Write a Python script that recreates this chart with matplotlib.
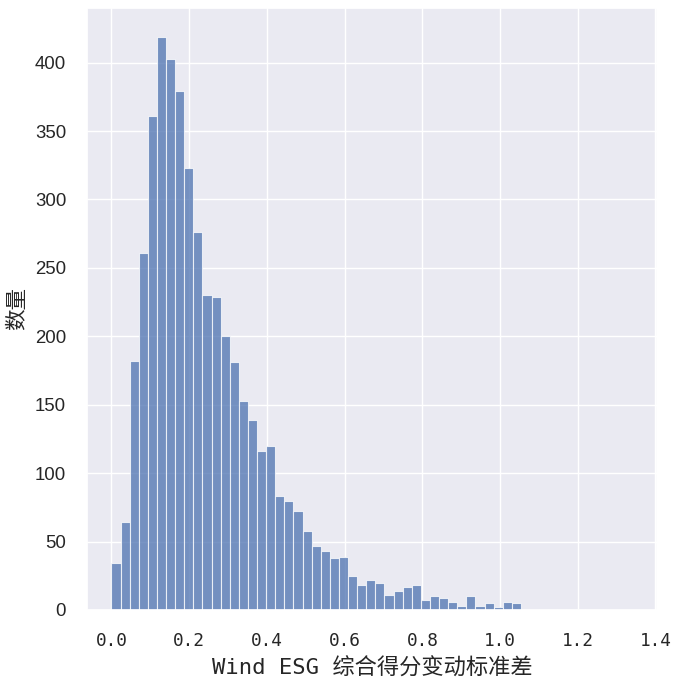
import matplotlib
matplotlib.use('Agg')
import matplotlib.pyplot as plt
import seaborn as sns
import numpy as np

# histogram of the Wind ESG score volatility, counts
bin_start = 0.0
bin_width = 0.02342
counts = [34, 64, 182, 261, 361, 419, 403, 379, 323, 276,
          230, 229, 200, 181, 153, 139, 116, 120, 83, 80,
          72, 58, 47, 43, 38, 39, 25, 18, 22, 20,
          11, 14, 17, 18, 7, 10, 9, 6, 3, 10,
          3, 5, 2, 6, 5, 0, 0, 1, 0, 1,
          0, 1, 1, 1, 0, 0, 0]
x_ticks = [0.0, 0.2, 0.4, 0.6, 0.8, 1.0, 1.2, 1.4]
y_ticks = [0, 50, 100, 150, 200, 250, 300, 350, 400]
x_label = 'Wind ESG 综合得分变动标准差'
y_label = '数量'

sns.set_theme(style='darkgrid')
plt.rcParams['font.family'] = ['Liberation Sans', 'Noto Sans CJK SC', 'DejaVu Sans']

fig = plt.figure(figsize=(6.85, 6.91), dpi=100)
ax = fig.add_axes([87 / 685, 1 - 610 / 691, 570 / 685, 602 / 691])

left_edges = bin_start + bin_width * np.arange(len(counts))
ax.bar(left_edges, counts, width=bin_width, align='edge',
       color='#4C72B0', alpha=0.75, edgecolor='white', linewidth=0.8)

ax.set_xlim(-0.063, 1.404)
ax.set_ylim(0, max(counts) * 1.05)

ax.set_xticks(x_ticks)
ax.set_xticklabels(['%.1f' % t for t in x_ticks], family=['DejaVu Sans Mono'], fontsize=12.8)
ax.set_yticks(y_ticks)
ax.set_yticklabels([str(t) for t in y_ticks], fontsize=13.4)
ax.tick_params(axis='x', pad=10)
ax.tick_params(axis='y', pad=9)

ax.set_xlabel(x_label, family=['DejaVu Sans Mono', 'Noto Sans CJK SC'], fontsize=16, labelpad=5)
ax.set_ylabel(y_label, family=['Noto Sans CJK SC'], fontsize=15.5)
ax.yaxis.set_label_coords(-0.104, 0.5)

fig.savefig('out.png', dpi=100)
